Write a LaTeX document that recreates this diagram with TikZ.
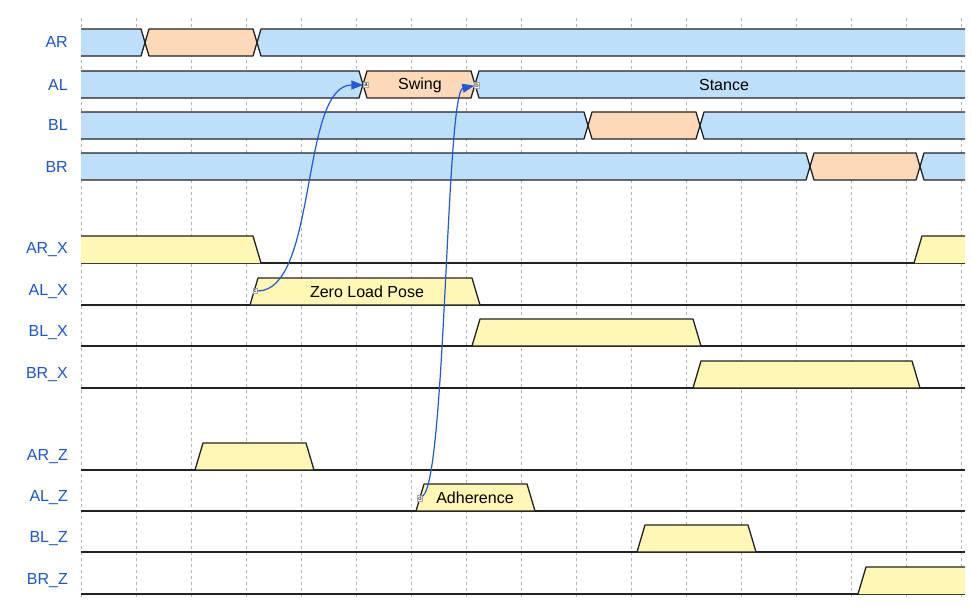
\documentclass[tikz,border=0pt]{standalone}
\usepackage{fontspec}
\setmainfont{Liberation Sans}
\usetikzlibrary{arrows.meta}
\definecolor{bblue}{HTML}{BEDFFA}
\definecolor{borange}{HTML}{FCD9B8}
\definecolor{byellow}{HTML}{FFF7B3}
\definecolor{lblue}{HTML}{1F55C4}
\definecolor{edge}{HTML}{222222}
\definecolor{arr}{HTML}{2457D6}
\begin{document}
\begin{tikzpicture}[x=1pt,y=-1pt,
  lab/.style={anchor=east,text=lblue,font=\fontsize{16}{16}\selectfont,inner sep=0},
  wtxt/.style={font=\fontsize{16}{16}\selectfont,inner sep=0},
  wave/.style={draw=edge,line width=1.3pt,line join=round},
  grid/.style={draw=gray!60,dashed,line width=0.8pt},
  tag/.style={draw=gray!70,fill=white,inner sep=0.8pt,font=\fontsize{6}{6}\selectfont},
  conn/.style={draw=arr,line width=1.2pt,-{Triangle[length=12pt,width=9pt,fill=arr]}}]
\useasboundingbox (0,0) rectangle (972,606);
\foreach \k in {0,...,16} \draw[grid] (81+55*\k,18) -- (81+55*\k,600);
\newcommand{\hexa}[4]{%
  \filldraw[wave,fill=#4] (#1,#3+13.5) -- (#1+4,#3) -- (#2-4,#3) -- (#2,#3+13.5) -- (#2-4,#3+27) -- (#1+4,#3+27) -- cycle;}
\newcommand{\hstart}[3]{%
  \fill[#3] (81,#2) -- (#1-4,#2) -- (#1,#2+13.5) -- (#1-4,#2+27) -- (81,#2+27) -- cycle;
  \draw[wave] (81,#2) -- (#1-4,#2) -- (#1,#2+13.5) -- (#1-4,#2+27) -- (81,#2+27);}
\newcommand{\hend}[3]{%
  \fill[#3] (965,#2) -- (#1+4,#2) -- (#1,#2+13.5) -- (#1+4,#2+27) -- (965,#2+27) -- cycle;
  \draw[wave] (965,#2) -- (#1+4,#2) -- (#1,#2+13.5) -- (#1+4,#2+27) -- (965,#2+27);}
\hstart{145}{29}{bblue}\hexa{145}{257}{29}{borange}\hend{257}{29}{bblue}
\hstart{363}{71}{bblue}\hexa{363}{475}{71}{borange}\hend{475}{71}{bblue}
\hstart{588}{112}{bblue}\hexa{588}{700}{112}{borange}\hend{700}{112}{bblue}
\hstart{810}{153}{bblue}\hexa{810}{920}{153}{borange}\hend{920}{153}{bblue}
\node[wtxt] (swing) at (420,85) {Swing};
\node[wtxt] (stance) at (724,85) {Stance};
\newcommand{\pulse}[3]{%
  \filldraw[wave,fill=byellow] (#1,#3) -- (#1+8,#3-27) -- (#2-8,#3-27) -- (#2,#3) -- cycle;}
\foreach \b in {263,305,346,388,470,511,552,594} \draw[wave] (81,\b) -- (965,\b);
\fill[byellow] (81,236) -- (253,236) -- (261,263) -- (81,263) -- cycle;
\draw[wave] (81,236) -- (253,236) -- (261,263);
\fill[byellow] (914,263) -- (922,236) -- (965,236) -- (965,263) -- cycle;
\draw[wave] (914,263) -- (922,236) -- (965,236);
\pulse{250}{480}{305}
\pulse{472}{701}{346}
\pulse{693}{920}{388}
\pulse{195}{314}{470}
\pulse{416}{535}{511}
\pulse{637}{756}{552}
\fill[byellow] (858,594) -- (866,567) -- (965,567) -- (965,594) -- cycle;
\draw[wave] (858,594) -- (866,567) -- (965,567);
\node[wtxt] (zlp) at (367,292) {Zero Load Pose};
\node[wtxt] (adh) at (475,498) {Adherence};
\foreach \t/\y in {AR/42,AL/85,BL/125,BR/167,AR\_X/250,AL\_X/292,BL\_X/333,BR\_X/375,AR\_Z/457,AL\_Z/498,BL\_Z/539,BR\_Z/581}
  \node[lab] at (68,\y) {\t};
\node[tag] (a) at (366,85) {a};
\node[tag] (b) at (477,85) {b};
\node[tag] (c) at (255,291) {c};
\node[tag] (d) at (420,498) {d};
\draw[conn] (c) .. controls (318,291) and (300,85) .. (a);
\draw[conn] (d) .. controls (446,480) and (446,92) .. (b);
\end{tikzpicture}
\end{document}
